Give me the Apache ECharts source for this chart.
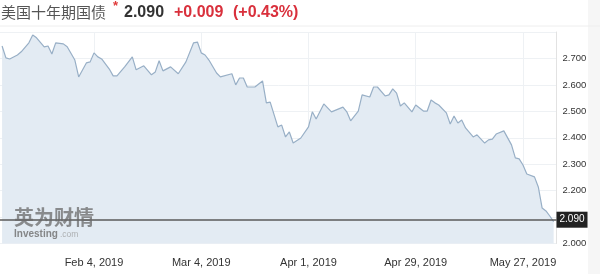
<!DOCTYPE html>
<html>
<head>
<meta charset="utf-8">
<script src="https://cdn.jsdelivr.net/npm/echarts@6/dist/echarts.min.js"></script>
<style>
html,body{margin:0;padding:0;background:#fff;}
#c{width:600px;height:274px;}
</style>
</head>
<body>
<div id="c"></div>
<script>
const titleText = '美国十年期国债';
const lastPrice = '2.090';
const changeAbs = '+0.009';
const changePct = '(+0.43%)';
const lastValue = 2.090;

const dates = [
'2019-01-11','2019-01-12','2019-01-13','2019-01-15','2019-01-16','2019-01-18','2019-01-19','2019-01-20','2019-01-22','2019-01-23',
'2019-01-24','2019-01-25','2019-01-27','2019-01-28','2019-01-30','2019-01-31','2019-02-02','2019-02-03','2019-02-04','2019-02-05',
'2019-02-06','2019-02-08','2019-02-09','2019-02-10','2019-02-12','2019-02-14','2019-02-15','2019-02-17','2019-02-19','2019-02-20',
'2019-02-21','2019-02-22','2019-02-24','2019-02-26','2019-02-28','2019-03-02','2019-03-03','2019-03-04','2019-03-05','2019-03-06',
'2019-03-08','2019-03-09','2019-03-12','2019-03-13','2019-03-14','2019-03-15','2019-03-16','2019-03-18','2019-03-20','2019-03-21',
'2019-03-22','2019-03-24','2019-03-25','2019-03-26','2019-03-27','2019-03-28','2019-03-30','2019-04-01','2019-04-02','2019-04-03',
'2019-04-05','2019-04-07','2019-04-10','2019-04-11','2019-04-12','2019-04-14','2019-04-15','2019-04-17','2019-04-18','2019-04-19',
'2019-04-21','2019-04-22','2019-04-23','2019-04-24','2019-04-25','2019-04-26','2019-04-28','2019-04-29','2019-05-01','2019-05-02',
'2019-05-03','2019-05-04','2019-05-05','2019-05-07','2019-05-08','2019-05-09','2019-05-10','2019-05-11','2019-05-12','2019-05-14',
'2019-05-15','2019-05-17','2019-05-18','2019-05-19','2019-05-20','2019-05-22','2019-05-24','2019-05-25','2019-05-26','2019-05-27',
'2019-05-28','2019-05-30','2019-05-31','2019-06-01','2019-06-02','2019-06-03','2019-06-04'
];
const yields = [
2.747,2.702,2.698,2.713,2.725,2.759,2.789,2.778,2.744,2.747,
2.717,2.759,2.755,2.744,2.694,2.630,2.683,2.687,2.721,2.706,
2.698,2.660,2.634,2.634,2.668,2.706,2.657,2.672,2.638,2.649,
2.691,2.653,2.668,2.642,2.687,2.759,2.762,2.721,2.713,2.694,
2.645,2.630,2.642,2.600,2.626,2.626,2.592,2.592,2.615,2.532,
2.535,2.441,2.448,2.403,2.422,2.380,2.399,2.441,2.498,2.471,
2.528,2.498,2.516,2.498,2.464,2.501,2.562,2.554,2.592,2.592,
2.558,2.562,2.585,2.569,2.520,2.532,2.498,2.524,2.501,2.501,
2.543,2.532,2.524,2.494,2.452,2.482,2.456,2.467,2.437,2.403,
2.411,2.380,2.392,2.395,2.414,2.426,2.373,2.324,2.320,2.297,
2.263,2.252,2.214,2.134,2.123,2.104,2.083
];
const xTickDates = ['2019-02-04','2019-03-04','2019-04-01','2019-04-29','2019-05-27'];
const yMin = 2.0, yMax = 2.8, yStep = 0.1;

const monthNames = ['Jan','Feb','Mar','Apr','May','Jun','Jul','Aug','Sep','Oct','Nov','Dec'];
function parseD(s){ const p = s.split('-').map(Number); return new Date(p[0], p[1]-1, p[2]).getTime(); }
const xTicks = xTickDates.map(parseD);
const seriesData = dates.map((d,i)=>[parseD(d), yields[i]]);

const chart = echarts.init(document.getElementById('c'), null, {renderer:'canvas'});
const FONT = '"Liberation Sans", Arial, sans-serif';
chart.setOption({
  animation:false,
  backgroundColor:'#fff',
  grid:{left:0, right:43.5, top:32, bottom:30.5},
  xAxis:{
    type:'value',
    z:3,
    min:new Date(2019,0,10,11).getTime(),
    max:new Date(2019,5,4,18).getTime(),
    axisLine:{show:false},
    axisTick:{show:false, customValues:xTicks},
    splitLine:{show:true, lineStyle:{color:'#eef1f4', width:1}},
    axisLabel:{
      customValues:xTicks,
      margin:14,
      color:'#333',
      fontSize:11,
      fontFamily:FONT,
      formatter:function(v){ const d=new Date(v); return monthNames[d.getMonth()]+' '+d.getDate()+', '+d.getFullYear(); }
    }
  },
  yAxis:{
    type:'value',
    position:'right',
    z:3,
    min:yMin, max:yMax, interval:yStep,
    axisLine:{show:true, lineStyle:{color:'#e2e2e2'}},
    axisTick:{show:false},
    splitLine:{show:true, lineStyle:{color:'#eef1f4', width:1}},
    axisLabel:{
      showMaxLabel:false,
      margin:6,
      color:'#333',
      fontSize:9.5,
      fontFamily:FONT,
      formatter:function(v){ return v.toFixed(3); }
    }
  },
  series:[{
    type:'line',
    data:seriesData,
    symbol:'none',
    lineStyle:{color:'#98afc6', width:1.2},
    areaStyle:{color:'#e3ebf3', opacity:1},
    markLine:{
      silent:true,
      symbol:['none','none'],
      lineStyle:{color:'#5a5a5a', width:1.5, type:'solid'},
      label:{
        show:true,
        position:'end',
        distance:0,
        formatter:lastPrice,
        color:'#fff',
        backgroundColor:'#222',
        padding:[3,3,3,3],
        fontSize:10,
        fontFamily:FONT
      },
      data:[{yAxis:lastValue}]
    }
  }],
  graphic:[
    {type:'rect', shape:{x:588, y:0, width:12, height:274}, style:{fill:'#f6f6f6'}, z:-1},
    {type:'line', shape:{x1:0, y1:26, x2:600, y2:26}, style:{stroke:'#eeeeee', lineWidth:1}},
    {type:'text', left:1, top:5, style:{text:titleText, fill:'#555', font:'15px "Noto Sans CJK SC", sans-serif'}},
    {type:'text', left:113, top:0, style:{text:'*', fill:'#e03a3a', font:'bold 13px '+FONT}},
    {type:'text', left:124, top:5, style:{text:lastPrice, fill:'#333', font:'bold 16px '+FONT}},
    {type:'text', left:174, top:5, style:{text:changeAbs, fill:'#d9303c', font:'bold 16px '+FONT}},
    {type:'text', left:233, top:5, style:{text:changePct, fill:'#d9303c', font:'bold 16px '+FONT}},
    {type:'text', left:14, top:207, z:10, style:{text:'英为财情', fill:'rgba(105,105,105,0.75)', font:'bold 20px "Noto Sans CJK SC", sans-serif'}},
    {type:'text', left:14, top:229, z:10, style:{text:'Investing', fill:'rgba(115,115,115,0.85)', font:'bold 10px '+FONT}},
    {type:'text', left:60, top:230, z:10, style:{text:'.com', fill:'rgba(150,150,150,0.7)', font:'8.5px '+FONT}}
  ]
});
</script>
</body>
</html>
